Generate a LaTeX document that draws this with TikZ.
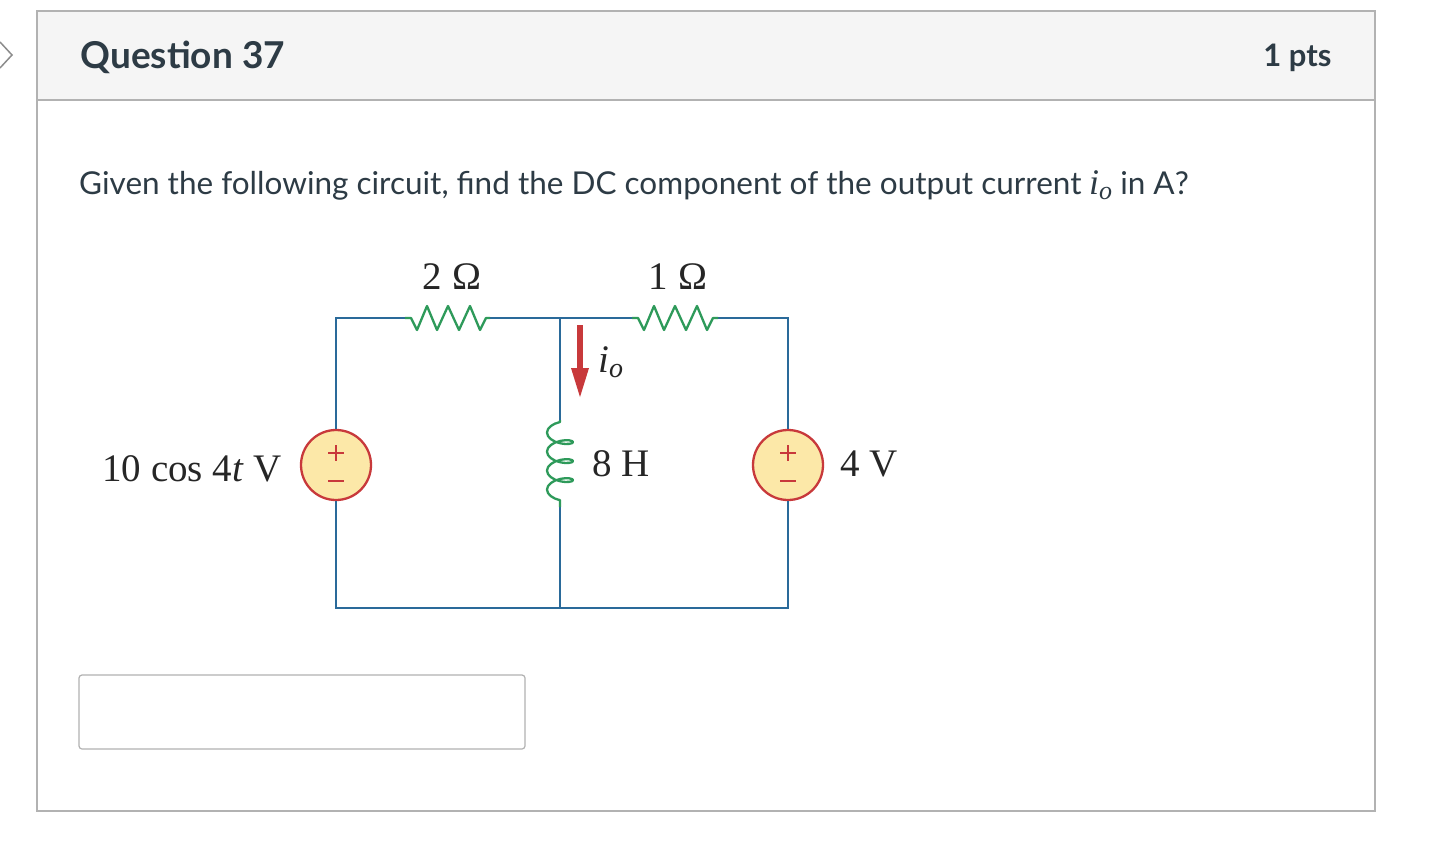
\documentclass[tikz,border=0pt]{standalone}
\usepackage{fontspec}
\setmainfont{Lato}
\newfontfamily\ser{Liberation Serif}
\usetikzlibrary{decorations.pathmorphing,calc}
\definecolor{wire}{HTML}{2A6A9A}
\definecolor{res}{HTML}{2E9A5A}
\definecolor{srcf}{HTML}{FCE8A8}
\definecolor{srcd}{HTML}{C8393B}
\definecolor{txt}{HTML}{2D3B45}
\tikzset{
 w/.style={draw=wire,line width=2.8pt},
 rz/.style={draw=res,line width=2.3pt,line join=round},
 src/.style={circle,draw=srcd,fill=srcf,line width=2.3pt,minimum size=70pt,inner sep=0pt},
 lab/.style={font=\ser\fontsize{39}{39}\selectfont,text=black!85,inner sep=0pt},
}
\begin{document}
\begin{tikzpicture}[x=1pt,y=-1pt]
\useasboundingbox (0,0) rectangle (1434,850);
\fill[white] (0,0) rectangle (1434,850);
\draw[fill=black!4,draw=black!30,line width=1.2pt] (37,11) rectangle (1375,100);
\draw[draw=black!30,line width=1.2pt] (37,100) rectangle (1375,811);
\draw[black!45,line width=1.5pt] (0,42) -- (12,55) -- (0,68);
\node[anchor=west,text=txt,font=\bfseries\fontsize{37}{37}\selectfont] (title) at (77,57) {Question 37};
\node[anchor=east,text=txt,font=\bfseries\fontsize{31}{31}\selectfont] (pts) at (1335,58) {1 pts};
\node[anchor=base west,text=txt,font=\fontsize{31.5}{31.5}\selectfont,inner sep=0pt] (q) at (79,195) {Given the following circuit, find the DC component of the output current {\ser\itshape\fontsize{36}{36}\selectfont i\raisebox{-0.25ex}{\fontsize{26}{26}\selectfont o}} in A?};
% circuit
\coordinate (tl) at (336,318); \coordinate (tm) at (560,318); \coordinate (tr) at (788,318);
\coordinate (bl) at (336,608); \coordinate (bm) at (560,608); \coordinate (br) at (788,608);
\node[src] (s1) at (336,465) {};
\node[src] (s2) at (788,465) {};
\foreach \s in {s1,s2}{
 \draw[srcd,line width=2.5pt] ($(\s)+(-8,-12)$) -- ++(16,0) ($(\s)+(0,-20)$) -- ++(0,16) ($(\s)+(-8,16)$) -- ++(16,0);}
\draw[w] (s1.north) -- (tl) -- (405,318);
\draw[w] (490,318) -- (632,318);
\draw[w] (718,318) -- (tr) -- (s2.north);
\draw[w] (s1.south) -- (bl) -- (br) -- (s2.south);
\draw[w] (tm) -- (560,420);
\draw[w] (560,507) -- (bm);
\draw[rz] (405,318) -- (411,318) -- (417,330) -- (427,306) -- (437,330) -- (448,306) -- (459,330) -- (470,306) -- (480,330) -- (486,318) -- (490,318);
\draw[rz] (632,318) -- (638,318) -- (644,330) -- (654,306) -- (664,330) -- (675,306) -- (686,330) -- (697,306) -- (707,330) -- (713,318) -- (718,318);
\draw[rz,decorate,decoration={coil,segment length=19pt,amplitude=13pt,aspect=0.45,pre length=2pt,post length=2pt,mirror}] (560,420) -- (560,507);
\fill[srcd] (577,325) rectangle (583,370);
\fill[srcd] (571,368) -- (589,368) -- (580,397) -- cycle;
\node[lab,anchor=base] (r1) at (452,289) {2 Ω};
\node[lab,anchor=base] (r2) at (678,289) {1 Ω};
\node[lab,anchor=base west,font=\ser\itshape\fontsize{39}{39}\selectfont] (io) at (598,372) {i\raisebox{-0.3ex}{\fontsize{28}{28}\selectfont o}};
\node[lab,anchor=base west] (l) at (592,476) {8 H};
\node[lab,anchor=base east] (v1) at (282,481) {10 cos 4\textit{t} V};
\node[lab,anchor=base west] (v2) at (840,476) {4 V};
\draw[black!30,line width=1.2pt,rounded corners=3pt] (79,675) rectangle (525,749);
\end{tikzpicture}
\end{document}
